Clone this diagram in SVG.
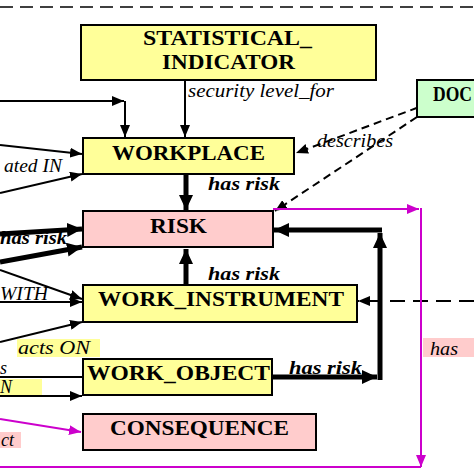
<svg xmlns="http://www.w3.org/2000/svg" width="474" height="474" viewBox="0 0 474 474">
<defs>
<style>
.box{stroke:#000;stroke-width:2}
.y{fill:#ffff99}.p{fill:#ffcccc}.g{fill:#ccffcc}
.bt{font-family:"Liberation Serif",serif;font-weight:bold;font-size:20px;fill:#000}
.lb{font-family:"Liberation Serif",serif;font-style:italic;font-size:18px;fill:#000}
.lbb{font-family:"Liberation Serif",serif;font-style:italic;font-weight:bold;font-size:18px;fill:#000}
.thin{stroke:#000;stroke-width:2;fill:none}
.thick{stroke:#000;stroke-width:5;fill:none}
.dash{stroke:#000;stroke-width:2;fill:none;stroke-dasharray:8 5}
.mag{stroke:#cc00cc;stroke-width:2;fill:none}
</style>
<marker id="a" markerUnits="userSpaceOnUse" markerWidth="12" markerHeight="10" refX="12" refY="5" orient="auto"><path d="M0,0 L12,5 L0,10 z" fill="#000"/></marker>
<marker id="b" markerUnits="userSpaceOnUse" markerWidth="15" markerHeight="14" refX="15" refY="7" orient="auto"><path d="M0,0 L15,7 L0,14 z" fill="#000"/></marker>
<marker id="m" markerUnits="userSpaceOnUse" markerWidth="12" markerHeight="10" refX="12" refY="5" orient="auto"><path d="M0,0 L12,5 L0,10 z" fill="#cc00cc"/></marker>
</defs>
<rect width="474" height="474" fill="#fff"/>
<line x1="0" y1="7" x2="474" y2="7" stroke="#000" stroke-width="1.5" stroke-dasharray="13 7"/>

<g id="label-bgs">
<rect x="17" y="339" width="83" height="18" fill="#ffff99"/>
<rect x="0" y="379" width="42" height="17" fill="#ffff99"/>
<rect x="0" y="432" width="21" height="16" fill="#ffcccc"/>
<rect x="423" y="338" width="51" height="19" fill="#ffcccc"/>
</g>

<g id="connectors">
<line class="thin" x1="0" y1="101" x2="124" y2="101" marker-end="url(#a)"/>
<line class="thin" x1="125" y1="101" x2="125" y2="137" marker-end="url(#a)"/>
<line class="thin" x1="185" y1="80" x2="185" y2="137" marker-end="url(#a)"/>
<line class="thin" x1="0" y1="145" x2="82" y2="154" marker-end="url(#a)"/>
<line class="thin" x1="0" y1="193" x2="82" y2="174" marker-end="url(#a)"/>
<line class="thick" x1="186" y1="175" x2="186" y2="210" marker-end="url(#b)"/>
<line class="thick" x1="0" y1="234" x2="82" y2="229" marker-end="url(#b)"/>
<line class="thick" x1="0" y1="262" x2="82" y2="247" marker-end="url(#b)"/>
<line class="thick" x1="186" y1="284" x2="186" y2="249" marker-end="url(#b)"/>
<line class="thin" x1="0" y1="270" x2="82" y2="299" marker-end="url(#a)"/>
<line class="thin" x1="0" y1="302" x2="82" y2="302" marker-end="url(#a)"/>
<line class="thin" x1="0" y1="342" x2="82" y2="322" marker-end="url(#a)"/>
<line class="thin" x1="0" y1="377" x2="83" y2="377"/>
<line class="thin" x1="0" y1="396" x2="82" y2="396" marker-end="url(#a)"/>
<line class="thick" x1="273" y1="377" x2="377" y2="377" marker-end="url(#b)"/>
<line class="thick" x1="380" y1="380" x2="380" y2="233" marker-end="url(#b)"/>
<line class="thick" x1="382" y1="230" x2="274" y2="230" marker-end="url(#b)"/>
<line x1="474" y1="301" x2="358" y2="301" stroke="#000" stroke-width="2" stroke-dasharray="15 8" marker-end="url(#a)"/>
<line class="dash" x1="430" y1="103" x2="296" y2="153" marker-end="url(#a)"/>
<line class="dash" x1="417" y1="117" x2="275" y2="211" marker-end="url(#a)"/>
<line class="mag" x1="273" y1="209" x2="419" y2="209" marker-end="url(#m)"/>
<line class="mag" x1="421" y1="208" x2="421" y2="467" marker-end="url(#m)"/>
<line class="mag" x1="0" y1="467" x2="421" y2="467"/>
<line class="mag" x1="0" y1="419" x2="81" y2="432" marker-end="url(#m)"/>
</g>

<g id="statistical-indicator">
<rect class="box y" x="81" y="25" width="295" height="55"/>
<text class="bt" x="143" y="45" textLength="169" lengthAdjust="spacingAndGlyphs">STATISTICAL_</text>
<text class="bt" x="162" y="69" textLength="133" lengthAdjust="spacingAndGlyphs">INDICATOR</text>
</g>
<g id="workplace">
<rect class="box y" x="83" y="138" width="211" height="36"/>
<text class="bt" x="112" y="160" textLength="153" lengthAdjust="spacingAndGlyphs">WORKPLACE</text>
</g>
<g id="risk">
<rect class="box p" x="83" y="211" width="190" height="36"/>
<text class="bt" x="150" y="233" textLength="57" lengthAdjust="spacingAndGlyphs">RISK</text>
</g>
<g id="work-instrument">
<rect class="box y" x="83" y="285" width="274" height="37"/>
<text class="bt" x="98" y="306" textLength="246" lengthAdjust="spacingAndGlyphs">WORK_INSTRUMENT</text>
</g>
<g id="work-object">
<rect class="box y" x="83" y="359" width="189" height="36"/>
<text class="bt" x="87" y="380" textLength="183" lengthAdjust="spacingAndGlyphs">WORK_OBJECT</text>
</g>
<g id="consequence">
<rect class="box p" x="83" y="414" width="233" height="36"/>
<text class="bt" x="110" y="435" textLength="179" lengthAdjust="spacingAndGlyphs">CONSEQUENCE</text>
</g>
<g id="doc">
<rect class="box g" x="417" y="80" width="60" height="37"/>
<text class="bt" x="433" y="101" textLength="39" lengthAdjust="spacingAndGlyphs">DOC</text>
</g>

<g id="labels">
<text class="lb" x="188" y="97" textLength="146" lengthAdjust="spacingAndGlyphs">security level_for</text>
<text class="lb" x="317" y="147" textLength="76" lengthAdjust="spacingAndGlyphs">describes</text>
<text class="lbb" x="208" y="190" textLength="72" lengthAdjust="spacingAndGlyphs">has  risk</text>
<text class="lb" x="4" y="172" textLength="58" lengthAdjust="spacingAndGlyphs">ated  IN</text>
<text class="lbb" x="0" y="244" textLength="67" lengthAdjust="spacingAndGlyphs">has  risk</text>
<text class="lbb" x="208" y="280" textLength="72" lengthAdjust="spacingAndGlyphs">has  risk</text>
<text class="lb" x="0" y="300" textLength="48" lengthAdjust="spacingAndGlyphs">WITH</text>
<text class="lb" x="18" y="354" textLength="72" lengthAdjust="spacingAndGlyphs">acts  ON</text>
<text class="lbb" x="289" y="374" textLength="73" lengthAdjust="spacingAndGlyphs">has  risk</text>
<text class="lb" x="0" y="374">s</text>
<text class="lb" x="0" y="393">N</text>
<text class="lb" x="1" y="446">ct</text>
<text class="lb" x="430" y="355" textLength="28" lengthAdjust="spacingAndGlyphs">has</text>
</g>
</svg>
